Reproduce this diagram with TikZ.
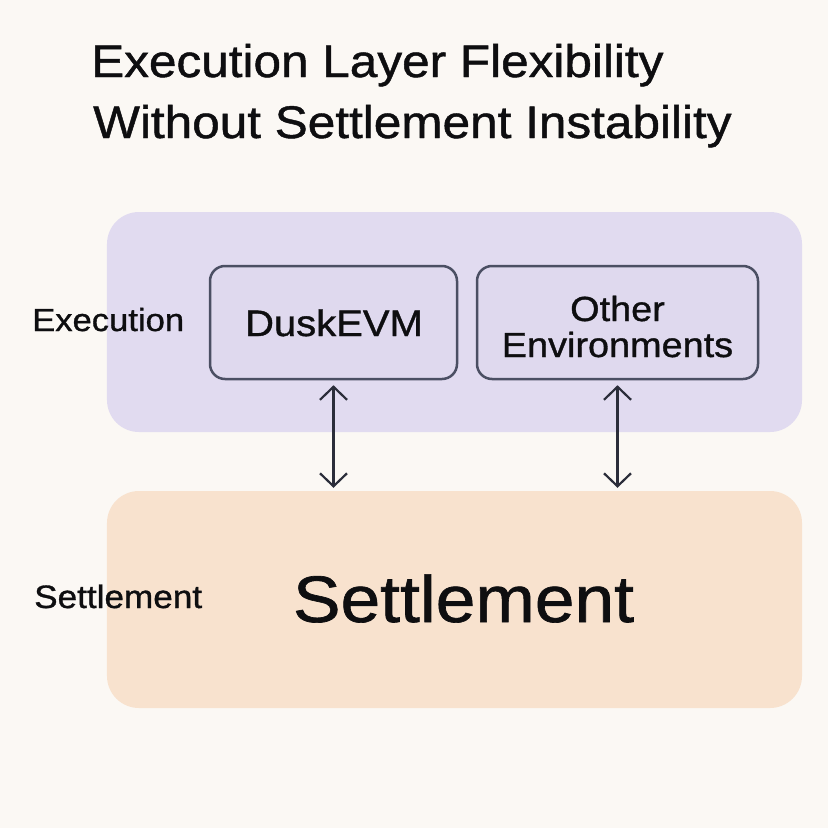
\documentclass[tikz,border=0pt]{standalone}
\usepackage{fontspec}
\setmainfont[FakeStretch=1.085,FakeBold=1.0]{Liberation Sans}
\usetikzlibrary{arrows.meta}
\definecolor{bg}{HTML}{FBF8F4}
\definecolor{execfill}{HTML}{E1DBF0}
\definecolor{boxfill}{HTML}{DFD9EE}
\definecolor{boxline}{HTML}{4B4F63}
\definecolor{settlefill}{HTML}{F8E2CE}
\definecolor{ink}{HTML}{0E0E10}
\definecolor{arrowc}{HTML}{2B2D3A}
\begin{document}
\begin{tikzpicture}[x=1bp,y=-1bp,
  panel/.style={rounded corners=32bp, inner sep=0pt, draw=none},
  envbox/.style={rounded corners=15bp, inner sep=0pt, draw=boxline, line width=2.5bp, fill=boxfill},
  txt/.style={text=ink, inner sep=0pt, anchor=base},
  link/.style={draw=arrowc, line width=2.2bp, {Straight Barb[length=13bp,width=27bp,line width=2.2bp]}-{Straight Barb[length=13bp,width=27bp,line width=2.2bp]}}
]
\fill[bg] (0,0) rectangle (828,828);
\useasboundingbox (0,0) rectangle (828,828);

% title
\node[txt, anchor=base west, font=\fontsize{45.8}{55}\selectfont] (t1) at (91,77) {Execution Layer Flexibility};
\node[txt, anchor=base west, font=\fontsize{45.8}{55}\selectfont] (t2) at (93,138) {Without Settlement Instability};

% panels
\node[panel, fill=execfill, minimum width=695bp, minimum height=220bp] (exec) at (454.5,322) {};
\node[panel, fill=settlefill, minimum width=695bp, minimum height=217bp] (settle) at (454.5,599.5) {};

% side labels
\node[txt, anchor=base west, font=\fontsize{32}{38}\selectfont] (lexec) at (32,331) {Execution};
\node[txt, anchor=base west, font=\fontsize{32.5}{38}\selectfont] (lsettle) at (34,608) {Settlement};

% inner boxes
\node[envbox, minimum width=247bp, minimum height=113bp] (dusk) at (333.5,322.5) {};
\node[envbox, minimum width=281bp, minimum height=113bp] (other) at (617.5,322.5) {};
\node[txt, font=\fontsize{37}{44}\selectfont] (duskt) at (334,336) {DuskEVM};
\node[txt, font=\fontsize{35}{40}\selectfont] (othert1) at (617.5,321) {Other};
\node[txt, font=\fontsize{35}{40}\selectfont] (othert2) at (617.5,357) {Environments};

% big label
\node[txt, font=\fontsize{66}{76}\selectfont] (settlet) at (463.5,622) {Settlement};

% arrows
\draw[link] ([yshift=-5bp]dusk.south) -- ([yshift=3bp]dusk.south |- settle.north);
\draw[link] ([yshift=-5bp]other.south) -- ([yshift=3bp]other.south |- settle.north);
\end{tikzpicture}
\end{document}
